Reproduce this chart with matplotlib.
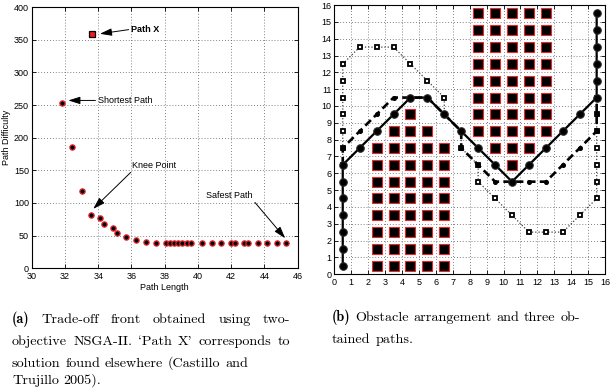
import numpy as np
import matplotlib
matplotlib.use("Agg")
import matplotlib.pyplot as plt

plt.rcParams['font.family'] = ['Liberation Sans', 'DejaVu Sans']

# (a) trade-off front
front_len = [31.8, 32.4, 33.0, 33.55, 34.1, 34.35, 34.9, 35.15, 35.7, 36.3, 36.9, 37.5,
             38.08, 38.32, 38.56, 38.8, 39.06, 39.32, 39.58, 40.25, 40.85, 41.4, 41.99,
             42.2, 42.8, 43.03, 43.63, 44.17, 44.75, 45.32]
front_diff = [253, 185, 118, 81, 77, 68, 62, 54, 48, 43, 41, 39.5,
              39, 39, 39, 39, 39, 39, 39, 39, 39, 39, 39,
              39, 39, 39, 39, 39, 39, 39]
pathx_len = [33.6]
pathx_diff = [359]

# (b) obstacle columns (cell centres) and their vertical extent
obst_cols = [2.5, 3.5, 4.5, 5.5, 6.5, 8.5, 9.5, 10.5, 11.5, 12.5]
obst_lo = [0.5, 0.5, 0.5, 0.5, 0.5, 8.5, 7.5, 6.5, 7.5, 8.5]
obst_hi = [7.5, 8.5, 9.5, 8.5, 7.5, 15.5, 15.5, 15.5, 15.5, 15.5]

solid_x = [0.5, 0.5, 0.5, 0.5, 0.5, 0.5, 0.5, 1.5, 2.5, 3.5, 4.5, 5.5, 6.5, 7.5, 8.5,
           9.5, 10.5, 11.5, 12.5, 13.5, 14.5, 15.5, 15.5, 15.5, 15.5, 15.5, 15.5]
solid_y = [0.5, 1.5, 2.5, 3.5, 4.5, 5.5, 6.5, 7.5, 8.5, 9.5, 10.5, 10.5, 9.5, 8.5, 7.5,
           6.5, 5.5, 6.5, 7.5, 8.5, 9.5, 10.5, 11.5, 12.5, 13.5, 14.5, 15.5]

dash_x = [0.5, 0.5, 1.5, 2.5, 3.5, 4.5, 5.5, 6.5, 7.5, 7.5, 8.5, 9.5, 10.5, 11.5, 12.5,
          13.5, 14.5, 15.5, 15.5, 15.5]
dash_y = [6.5, 7.5, 8.5, 9.5, 10.5, 10.5, 10.5, 9.5, 8.5, 7.5, 6.5, 5.5, 5.5, 5.5, 5.5,
          6.5, 7.5, 8.5, 9.5, 10.5]

dot_x = [0.5, 0.5, 0.5, 0.5, 0.5, 0.5, 0.5, 1.5, 2.5, 3.5, 4.5, 5.5, 6.5, 6.5, 7.5, 7.5,
         8.5, 8.5, 9.5, 10.5, 11.5, 12.5, 13.5, 14.5, 15.5, 15.5, 15.5, 15.5, 15.5, 15.5, 15.5]
dot_y = [6.5, 7.5, 8.5, 9.5, 10.5, 11.5, 12.5, 13.5, 13.5, 13.5, 12.5, 11.5, 10.5, 9.5, 8.5, 7.5,
         6.5, 5.5, 4.5, 3.5, 2.5, 2.5, 2.5, 3.5, 4.5, 5.5, 6.5, 7.5, 8.5, 9.5, 10.5]

fig = plt.figure(figsize=(6.1, 3.9), dpi=100)
ax1 = fig.add_axes([0.052, 0.312, 0.436, 0.670])
ax2 = fig.add_axes([0.548, 0.297, 0.444, 0.690])

grid_kw = dict(color='0.35', linestyle=(0, (1, 2.5)), linewidth=0.6)
for ax in (ax1, ax2):
    ax.tick_params(direction='in', length=3, width=0.6, labelsize=6.5, pad=2,
                   top=True, right=True)
    ax.tick_params(axis='x', pad=3)
    for s in ax.spines.values():
        s.set_linewidth(0.8)
    ax.grid(True, **grid_kw)
    ax.set_axisbelow(True)

# ---- (a)
ax1.plot(front_len, front_diff, 'o', ms=3.8, mfc='k', mec='#e8262b', mew=0.9, zorder=3)
ax1.plot(pathx_len, pathx_diff, 's', ms=5, mfc='#ee1c24', mec='k', mew=0.9, zorder=3)
ax1.set_xlim(30, 46)
ax1.set_ylim(0, 400)
ax1.set_xticks(np.arange(30, 47, 2))
ax1.set_yticks(np.arange(0, 401, 50))
ax1.set_xlabel('Path Length', fontsize=6.5, labelpad=1)
ax1.set_ylabel('Path Difficulty', fontsize=6.5, labelpad=2)

def arrow(rel):
    return dict(arrowstyle='-|>,head_length=0.9,head_width=0.28', color='k', lw=0.7,
                mutation_scale=8, shrinkA=0, shrinkB=0, relpos=rel)

ax1.annotate('Path X', xy=(34.1, 359), xytext=(36.0, 366), fontsize=6.5, fontweight='bold',
             va='center', ha='left', arrowprops=arrow((0, 0.5)))
ax1.annotate('Shortest Path', xy=(32.2, 257), xytext=(34.0, 257), fontsize=6.5,
             va='center', ha='left', arrowprops=arrow((0, 0.5)))
ax1.annotate('Knee Point', xy=(33.7, 91), xytext=(36.05, 158), fontsize=6.5,
             va='center', ha='left', arrowprops=arrow((0.05, 0.1)))
ax1.annotate('Safest Path', xy=(45.25, 46), xytext=(40.5, 112), fontsize=6.5,
             va='center', ha='left', arrowprops=arrow((0.98, 0.1)))

# ---- (b)
ox, oy = [], []
for c, lo, hi in zip(obst_cols, obst_lo, obst_hi):
    ys = np.arange(lo, hi + 0.5, 1.0)
    ox.extend([c] * len(ys))
    oy.extend(ys)
ax2.plot(ox, oy, 's', ms=7.4, mfc='k', mec='#e8262b', mew=0.8, zorder=2)

ax2.plot(dot_x, dot_y, color='0.25', linestyle=(0, (1, 1.6)), lw=0.9, marker='s',
         ms=2.6, mfc='white', mec='k', mew=1.3, zorder=3)
ax2.plot(dash_x, dash_y, color='k', linestyle=(0, (3, 1.6)), lw=1.9, marker='o',
         ms=2.6, mfc='k', mec='k', zorder=4)
ax2.plot(solid_x, solid_y, color='k', lw=1.6, marker='o', ms=5.4, mfc='k', mec='0.15',
         mew=0.8, zorder=5)
ax2.set_xlim(0, 16)
ax2.set_ylim(0, 16)
ax2.set_xticks(np.arange(0, 17))
ax2.set_yticks(np.arange(0, 17))

# ---- captions
cap_fs = 10.2
renderer = fig.canvas.get_renderer()

def put_line(words, y_top, x0, x1=None, bold_first=False):
    y = 390 - y_top
    items = []
    for i, w in enumerate(words):
        fam = ['cmb10', 'DejaVu Serif'] if (bold_first and i == 0) else ['cmr10', 'DejaVu Serif']
        t = fig.text(0, y, w, family=fam, fontsize=cap_fs, va='baseline', ha='left',
                     transform=None)
        items.append((t, t.get_window_extent(renderer).width))
    total = sum(wd for _, wd in items)
    if x1 is None:
        gap = cap_fs * 0.333 * 100 / 72
    else:
        gap = (x1 - x0 - total) / (len(items) - 1)
    x = x0
    for t, wd in items:
        t.set_x(x)
        x += wd + gap

put_line('(a) Trade-off front obtained using two-'.split(), 323, 12, 290, bold_first=True)
put_line("objective NSGA-II. `Path X' corresponds to".split(), 345, 12, 290)
put_line('solution found elsewhere (Castillo and'.split(), 367, 12)
put_line('Trujillo 2005).'.split(), 384, 12)
put_line('(b) Obstacle arrangement and three ob-'.split(), 321, 332, bold_first=True)
put_line('tained paths.'.split(), 343, 332)

fig.savefig('out.png', dpi=100)
